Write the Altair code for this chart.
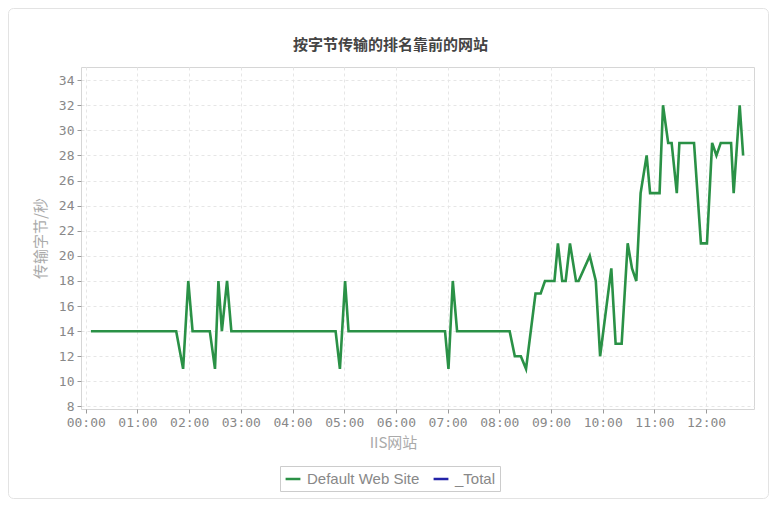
import altair as alt
import pandas as pd

# ---- data ----
times = [
    "00:06", "01:45", "01:53", "01:59", "02:04", "02:24", "02:30", "02:34", "02:38", "02:44",
    "02:49", "04:50", "04:55", "05:01", "05:05", "06:57", "07:01", "07:06", "07:11", "08:12",
    "08:18", "08:25", "08:31", "08:42", "08:48", "08:53", "09:04", "09:08", "09:13", "09:17",
    "09:22", "09:29", "09:32", "09:45", "09:52", "09:57", "10:10", "10:15", "10:22", "10:29",
    "10:34", "10:39", "10:44", "10:51", "10:55", "11:06", "11:10", "11:16", "11:20", "11:26",
    "11:29", "11:46", "11:54", "12:01", "12:07", "12:12", "12:17", "12:29", "12:32", "12:39",
    "12:43",
]
values = [
    14, 14, 11, 18, 14, 14, 11, 18, 14, 18,
    14, 14, 11, 18, 14, 14, 11, 18, 14, 14,
    12, 12, 11, 17, 17, 18, 18, 21, 18, 18,
    21, 18, 18, 20, 18, 12, 19, 13, 13, 21,
    19, 18, 25, 28, 25, 25, 32, 29, 29, 25,
    29, 29, 21, 21, 29, 28, 29, 29, 25, 32,
    28,
]
series_names = ["Default Web Site", "_Total"]
series_colors = ["#2a9146", "#2323a8"]
hour_labels = ["00:00", "01:00", "02:00", "03:00", "04:00", "05:00", "06:00",
               "07:00", "08:00", "09:00", "10:00", "11:00", "12:00"]
y_ticks = [8, 10, 12, 14, 16, 18, 20, 22, 24, 26, 28, 30, 32, 34]

title_text = "按字节传输的排名靠前的网站"
x_title = "IIS网站"
y_title = "传输字节/秒"


def to_min(s):
    h, m = s.split(":")
    return int(h) * 60 + int(m)


df = pd.DataFrame({
    "minute": [to_min(t) for t in times],
    "value": values,
    "series": series_names[0],
})
hour_values = [to_min(h) for h in hour_labels]
label_expr = "[" + ",".join("'%s'" % l for l in hour_labels) + "][round(datum.value/60)]"

W, H = 673, 342

line = alt.Chart(df).mark_line(strokeWidth=2.6).encode(
    x=alt.X(
        "minute:Q",
        scale=alt.Scale(domain=[-5.5, 775.6], nice=False, zero=False),
        axis=alt.Axis(
            values=hour_values, labelExpr=label_expr, title=x_title,
            titleX=312, titleY=33, titleBaseline="middle", titleAlign="center",
            labelPadding=3,
        ),
    ),
    y=alt.Y(
        "value:Q",
        scale=alt.Scale(domain=[7.8, 35.05], nice=False, zero=False),
        axis=alt.Axis(
            values=y_ticks, title=y_title,
            titleX=-41, titleY=H / 2, titleBaseline="middle", titleAlign="center",
            labelPadding=3,
        ),
    ),
    color=alt.Color(
        "series:N",
        scale=alt.Scale(domain=series_names, range=series_colors),
        legend=alt.Legend(
            title=None, orient="none", legendX=199, legendY=399,
            direction="horizontal", symbolType="stroke", symbolStrokeWidth=2.5,
            symbolSize=220, labelFont="Liberation Sans", labelFontSize=15,
            labelColor="#888888", strokeColor="#cccccc", padding=4,
            columnPadding=8, labelOffset=5,
        ),
    ),
)

frame = alt.Chart(pd.DataFrame({"a": [0]})).mark_rect(
    fill="transparent", stroke="#e3e3e3", strokeWidth=1, cornerRadius=5
).encode(
    x=alt.value(-72.5), x2=alt.value(687.5), y=alt.value(-58.5), y2=alt.value(431.5)
)

chart = alt.layer(frame, line).properties(
    width=W, height=H,
    title=alt.TitleParams(
        title_text, font="Noto Sans CJK SC", fontSize=15, fontWeight="bold",
        color="#444444", anchor="middle", dx=-27, offset=-45,
    ),
    autosize=alt.AutoSizeParams(type="none"),
    padding={"left": 73, "top": 59, "right": 15, "bottom": 90},
    background="white",
).configure_view(
    stroke="#d6d6d6", strokeWidth=1
).configure_axis(
    domain=False, grid=True, gridDash=[3, 3], gridColor="#e6e6e6",
    tickColor="#9a9a9a", tickSize=4,
    labelColor="#888888", labelFont="DejaVu Sans Mono", labelFontSize=13,
    titleColor="#aaaaaa", titleFont="Noto Sans CJK SC", titleFontWeight="normal",
    titleFontSize=15,
)

chart.save("out.html", embed_options={"renderer": "svg", "actions": False})
